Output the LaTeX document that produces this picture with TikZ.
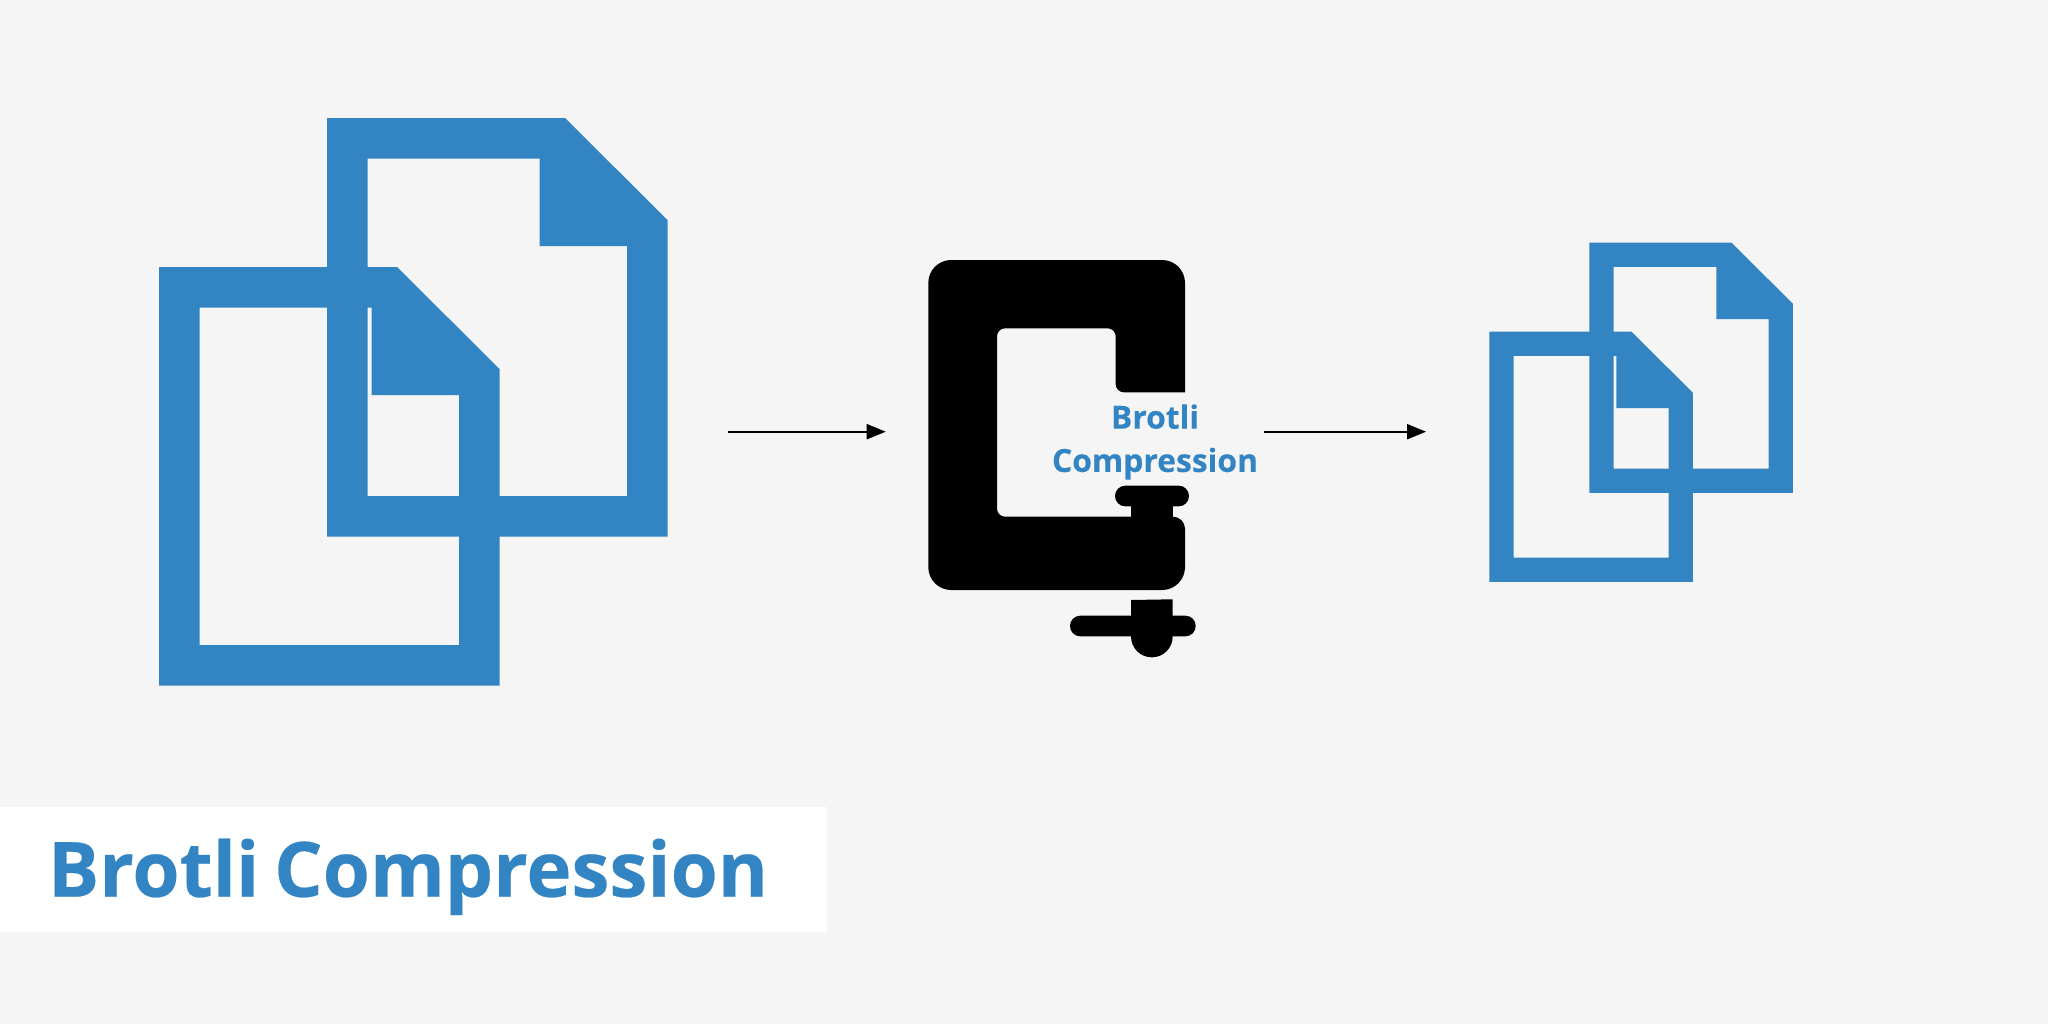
\documentclass[tikz,border=0pt]{standalone}
\usepackage{fontspec}
\setmainfont{Open Sans}[WordSpace=0.75,BoldFeatures={FakeBold=0.3}]
\usepackage{xcolor}
\usetikzlibrary{arrows.meta}
\definecolor{docblue}{HTML}{3284C2}
\definecolor{pagegrey}{HTML}{F5F5F5}
\tikzstyle{docfill}=[fill=docblue, even odd rule]
\tikzstyle{clampfill}=[fill=black]
\tikzstyle{arrow}=[-{Triangle[length=5.4pt,width=4.3pt]}, line width=0.48pt]
\begin{document}
\begin{tikzpicture}[x=0.01cm,y=-0.01cm,
  caption/.style={text=docblue,font=\bfseries,inner sep=0pt,outer sep=0pt}]

% page and title band
\fill[pagegrey] (0,0) rectangle (2048,1024);
\useasboundingbox (0,0) rectangle (2048,1024);
\fill[white] (0,807) rectangle (826.5,932);
\node[caption,anchor=base west,font=\fontsize{21.7}{26}\selectfont\bfseries] (title) at (48,896.7) {Brotli Compression};

% document pairs, back one first
\foreach \x/\y/\s in {327/118/1, 159/267/1, 1589.3/242.7/0.5975, 1489.3/331.7/0.5975} {
  \fill[docfill,shift={(\x,\y)},scale=\s]
    (0,0) -- (238,0) -- (340.5,102) -- (340.5,418.5) -- (0,418.5) -- cycle
    (40.5,40.6) -- (212.5,40.6) -- (212.5,128) -- (300,128) -- (300,378) -- (40.5,378) -- cycle;
}

% clamp body
\fill[clampfill] (928.3,425) [rounded corners=6.5pt] -- (928.3,260) -- (1185,260) [sharp corners] -- (1185,392.3)
  [rounded corners=2.3pt] -- (1115.7,392.3) -- (1115.7,328.3) -- (997,328.3)
  -- (997,516.7) [rounded corners=3.4pt] -- (1185,516.7)
  [rounded corners=6.5pt] -- (1185,590) -- (928.3,590) [sharp corners] -- cycle;
% screw
\fill[clampfill,rounded corners=2.9pt] (1115,485.7) rectangle (1189,506.3);
\fill[clampfill] (1131,500) rectangle (1172.7,520);
\fill[clampfill,rounded corners=2.9pt] (1070,615.7) rectangle (1195.7,636.3);
\fill[clampfill] (1131,600) -- (1172.7,599.3) -- (1172.7,636.5) arc[start angle=0,end angle=180,radius=20.85] -- cycle;

\node[caption,align=center,font=\fontsize{9.05}{12.32}\selectfont\bfseries] (clampText) at (1155,442) {Brotli\\Compression};

% arrows
\coordinate (in1) at (728,431.7);
\coordinate (out1) at (885.7,431.7);
\coordinate (in2) at (1264,431.7);
\coordinate (out2) at (1426,431.7);
\draw[arrow] (in1)--(out1);
\draw[arrow] (in2)--(out2);
\end{tikzpicture}
\end{document}
